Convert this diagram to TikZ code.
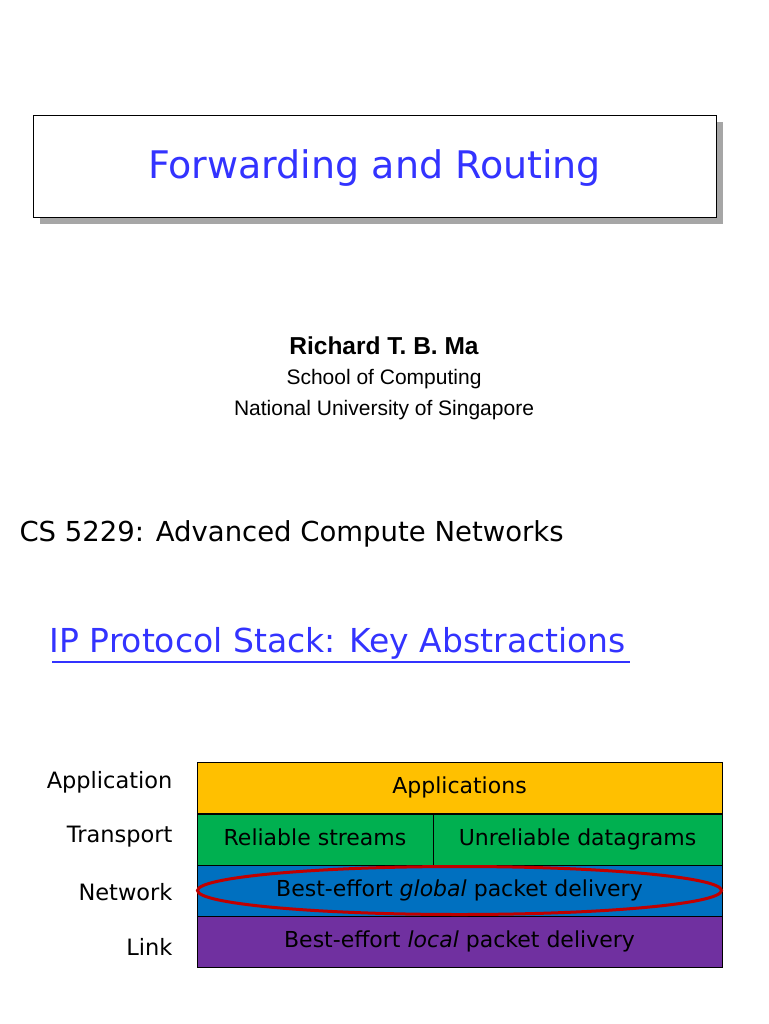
\documentclass[tikz,border=0pt]{standalone}
\usepackage{fontspec}
\setmainfont{Liberation Sans}
\newfontfamily\comic{DejaVu Sans}
\definecolor{ttl}{RGB}{51,51,255}
\definecolor{org}{RGB}{255,192,0}
\definecolor{grn}{RGB}{0,176,80}
\definecolor{blu}{RGB}{0,112,192}
\definecolor{pur}{RGB}{112,48,160}
\definecolor{ell}{RGB}{192,0,0}
\begin{document}
\begin{tikzpicture}[x=1pt,y=-1pt,
  cell/.style={draw=black,line width=0.8pt,minimum height=51pt,inner sep=0pt,text height=16pt,text depth=5pt,font=\comic\fontsize{22}{24}\selectfont},
  lay/.style={anchor=east,font=\comic\fontsize{22.5}{24}\selectfont}]
\useasboundingbox (0,0) rectangle (768,1024);
\fill[gray!70] (40,122) rectangle (723,224);
\node[draw=black,fill=white,line width=0.8pt,minimum width=683pt,minimum height=102pt,inner sep=0pt] (title) at (374.5,166) {};
\node[text=ttl,font=\comic\fontsize{38}{40}\selectfont] (tt) at (374.5,168) {Forwarding and Routing};
\node[font=\bfseries\fontsize{24.5}{26}\selectfont] (auth) at (384,346) {Richard T. B. Ma};
\node[font=\fontsize{21}{22}\selectfont] (sch) at (384,379) {School of Computing};
\node[font=\fontsize{21}{22}\selectfont] (nus) at (384,410) {National University of Singapore};
\node[anchor=west,font=\comic\fontsize{27.5}{30}\selectfont] (cs) at (16,534) {CS 5229: Advanced Compute Networks};
\node[anchor=west,text=ttl,font=\comic\fontsize{33}{36}\selectfont] (ip) at (46,643) {IP Protocol Stack: Key Abstractions};
\coordinate (u1) at (52,662);
\coordinate (u2) at (630,662);
\draw[ttl,line width=1.2pt] (u1) -- (u2);
\node[cell,fill=org,minimum width=525pt] (app) at (459.5,787.5) {Applications};
\node[cell,fill=grn,minimum width=236pt] (rel) at (315,839.5) {Reliable streams};
\node[cell,fill=grn,minimum width=289pt] (unr) at (577.5,839.5) {Unreliable datagrams};
\node[cell,fill=blu,minimum width=525pt] (net) at (459.5,890.5) {Best-effort \textit{global} packet delivery};
\node[cell,fill=pur,minimum width=525pt] (lnk) at (459.5,941.5) {Best-effort \textit{local} packet delivery};
\draw[ell,line width=3pt] (net.center) ellipse (262pt and 24pt);
\node[lay] (la) at (176,782) {Application};
\node[lay] (lt) at (176,837) {Transport};
\node[lay] (ln) at (176,892) {Network};
\node[lay] (ll) at (176,947) {Link};
\end{tikzpicture}
\end{document}
